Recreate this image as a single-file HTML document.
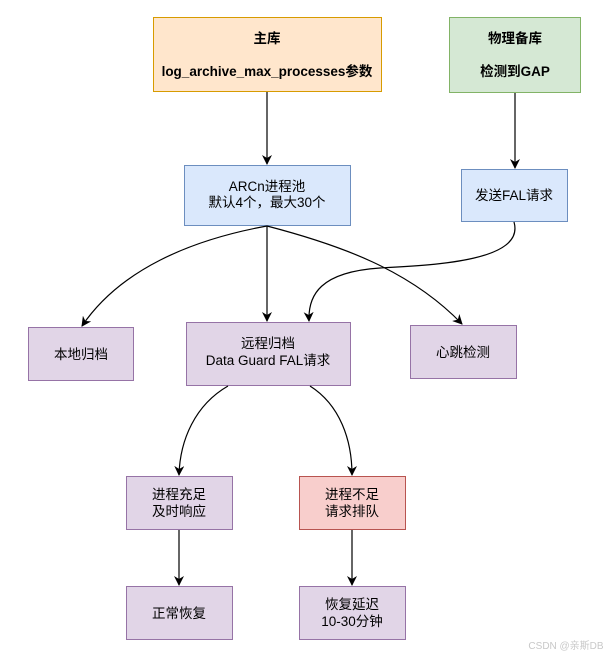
<!DOCTYPE html>
<html><head><meta charset="utf-8"><style>
body{margin:0;background:#fff;}
svg{display:block;}
text{font-family:"Liberation Sans","Noto Sans CJK SC",sans-serif;font-size:13.5px;fill:#000;text-anchor:middle;}
.b{font-weight:bold;font-size:13.5px;}
</style></head><body>
<svg width="608" height="658" viewBox="0 0 608 658" xmlns="http://www.w3.org/2000/svg">
<defs>
<marker id="m" viewBox="0 0 10 10" refX="9" refY="5" markerWidth="10" markerHeight="10" orient="auto" markerUnits="userSpaceOnUse"><path d="M0,0 L10,5 L0,10 L3,5 Z" fill="#000"/></marker></defs>
<rect x="153.5" y="17.5" width="228" height="74" fill="#ffe6cc" stroke="#d79b00"/>
<text x="267" y="43" class="b">主库</text>
<text x="267" y="76" class="b">log_archive_max_processes参数</text>
<rect x="449.5" y="17.5" width="131" height="75" fill="#d5e8d4" stroke="#82b366"/>
<text x="515" y="43" class="b">物理备库</text>
<text x="515" y="76" class="b">检测到GAP</text>
<rect x="184.5" y="165.5" width="166" height="60" fill="#dae8fc" stroke="#6c8ebf"/>
<text x="267" y="191">ARCn进程池</text>
<text x="267" y="207">默认4个，最大30个</text>
<rect x="461.5" y="169.5" width="106" height="52" fill="#dae8fc" stroke="#6c8ebf"/>
<text x="514" y="200">发送FAL请求</text>
<rect x="28.5" y="327.5" width="105" height="53" fill="#e1d5e7" stroke="#9673a6"/>
<text x="81" y="359">本地归档</text>
<rect x="186.5" y="322.5" width="164" height="63" fill="#e1d5e7" stroke="#9673a6"/>
<text x="268" y="348">远程归档</text>
<text x="268" y="365">Data Guard FAL请求</text>
<rect x="410.5" y="325.5" width="106" height="53" fill="#e1d5e7" stroke="#9673a6"/>
<text x="463" y="357">心跳检测</text>
<rect x="126.5" y="476.5" width="106" height="53" fill="#e1d5e7" stroke="#9673a6"/>
<text x="179" y="499">进程充足</text>
<text x="179" y="516">及时响应</text>
<rect x="299.5" y="476.5" width="106" height="53" fill="#f8cecc" stroke="#b85450"/>
<text x="352" y="499">进程不足</text>
<text x="352" y="516">请求排队</text>
<rect x="126.5" y="586.5" width="106" height="53" fill="#e1d5e7" stroke="#9673a6"/>
<text x="179" y="618">正常恢复</text>
<rect x="299.5" y="586.5" width="106" height="53" fill="#e1d5e7" stroke="#9673a6"/>
<text x="352" y="609">恢复延迟</text>
<text x="352" y="626">10-30分钟</text>
<g fill="none" stroke="#000" stroke-width="1.2" marker-end="url(#m)">
<path d="M267,92 L267,164"/>
<path d="M515,93 L515,168"/>
<path d="M267,226 L267,321"/>
<path d="M267,226 C190,240 120,270 82,326"/>
<path d="M267,226 C340,245 410,270 462,324"/>
<path d="M514,222 C525,260 440,265 380,268 C320,272 308,295 309,321"/>
<path d="M228,386 C195,405 180,440 179,475"/>
<path d="M310,386 C340,405 352,440 352,475"/>
<path d="M179,530 L179,585"/>
<path d="M352,530 L352,585"/>
</g>
<text x="566" y="649" style="font-size:10px;fill:#c8c8c8">CSDN @亲斯DB</text>
</svg>
</body></html>
